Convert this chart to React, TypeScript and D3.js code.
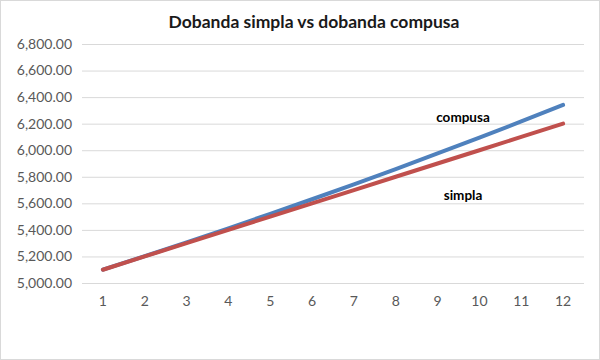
import React from "react";
import * as d3 from "d3";

const periods = [1, 2, 3, 4, 5, 6, 7, 8, 9, 10, 11, 12];
const simpla = [5100, 5200, 5300, 5400, 5500, 5600, 5700, 5800, 5900, 6000, 6100, 6200];
const compusa = [5100, 5202, 5306.04, 5412.16, 5520.4, 5630.81, 5743.43, 5858.3, 5975.46, 6094.97, 6216.87, 6341.21];
const yTicks = [5000, 5200, 5400, 5600, 5800, 6000, 6200, 6400, 6600, 6800];
const title = "Dobanda simpla vs dobanda compusa";

const W = 600;
const H = 360;
const left = 82;
const right = 584;
const top = 44;
const bottom = 283;

export default function App() {
  const x = d3.scaleBand<number>().domain(periods).range([left, right]);
  const cx = (p: number) => (x(p) as number) + x.bandwidth() / 2;
  const y = d3.scaleLinear().domain([5000, 6800]).range([bottom, top]);
  const fmt = d3.format(",.2f");
  const line = d3
    .line<number>()
    .x((_, i) => cx(periods[i]))
    .y((v) => y(v));
  const font = "Lato, 'Open Sans', sans-serif";

  return (
    <div style={{ position: "fixed", left: 0, top: 0 }}>
      <svg width={W} height={H} style={{ display: "block", background: "#fff" }}>
        <rect x={0.5} y={0.5} width={W - 1} height={H - 1} fill="#fff" stroke="#d9d9d9" />
        <text x={314} y={28} textAnchor="middle" fontFamily={font} fontWeight={700} fontSize={17.5} fill="#1a1a1a">
          {title}
        </text>
        {yTicks.map((t) => (
          <g key={t}>
            <line x1={left} x2={right} y1={y(t) + 0.5} y2={y(t) + 0.5} stroke="#d9d9d9" strokeWidth={1} />
            <text x={72} y={y(t)} dy="0.35em" textAnchor="end" fontFamily={font} fontSize={14} fill="#595959">
              {fmt(t)}
            </text>
          </g>
        ))}
        {periods.map((p) => (
          <text key={p} x={cx(p)} y={301} dy="0.35em" textAnchor="middle" fontFamily={font} fontSize={14} fill="#595959">
            {p}
          </text>
        ))}
        <path d={line(compusa) || ""} fill="none" stroke="#4F81BD" strokeWidth={4} strokeLinecap="round" />
        <path d={line(simpla) || ""} fill="none" stroke="#C0504D" strokeWidth={4} strokeLinecap="round" />
        <text x={463} y={117} dy="0.35em" textAnchor="middle" fontFamily={font} fontWeight={700} fontSize={13.5} fill="#000">
          compusa
        </text>
        <text x={463} y={195} dy="0.35em" textAnchor="middle" fontFamily={font} fontWeight={700} fontSize={13.5} fill="#000">
          simpla
        </text>
      </svg>
    </div>
  );
}
